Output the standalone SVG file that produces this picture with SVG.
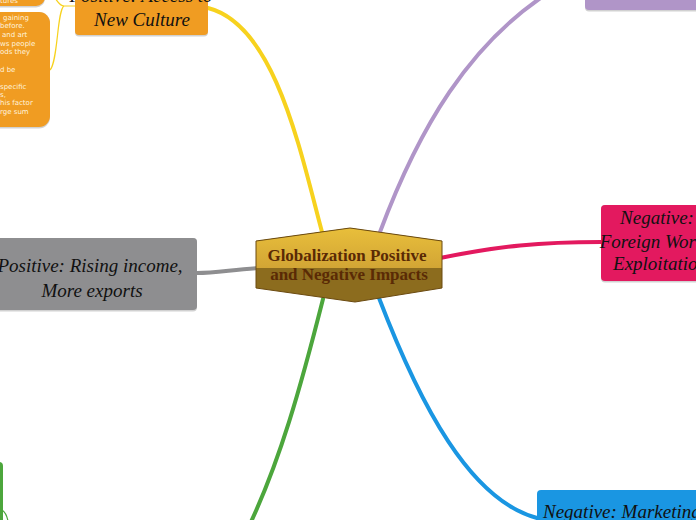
<svg xmlns="http://www.w3.org/2000/svg" width="696" height="520" viewBox="0 0 696 520">
<defs>
<linearGradient id="gTop" x1="0" y1="0" x2="0" y2="1">
<stop offset="0" stop-color="#EDC43C"/>
<stop offset="1" stop-color="#D2A535"/>
</linearGradient>
<clipPath id="hexClip"><polygon points="256,241 350,228 442,241 442,288 355,302 256,288"/></clipPath>
</defs>
<style>
.script{font-family:"Liberation Serif","DejaVu Serif",serif;font-style:italic;font-size:19px;fill:#111;text-anchor:middle}
.small{font-family:"DejaVu Sans","Liberation Sans",sans-serif;font-size:7px;fill:#fff3dd}
.conn{fill:none;stroke-width:4;stroke-linecap:round}
.thin{fill:none;stroke-width:1.2}
.shadow{fill:#000;opacity:0.18}
.center{font-family:"Liberation Serif","DejaVu Serif",serif;font-weight:bold;font-size:17px;fill:#5A2A05;text-anchor:middle}
</style>
<rect width="696" height="520" fill="#fff"/>
<g id="connectors">
<path class="conn" stroke="#F7D21E" d="M322 232 C300 150,275 25,208 8"/>
<path class="conn" stroke="#B095C8" d="M380 232 C420 125,470 45,545 -5"/>
<path class="conn" stroke="#E3195F" d="M440 258 C500 246,540 242,601 242"/>
<path class="conn" stroke="#1A96E2" d="M379 298 C420 405,470 500,537 518"/>
<path class="conn" stroke="#4CA63C" d="M323 299 C300 390,280 460,250 524"/>
<path class="conn" stroke="#8E8E90" d="M258 268 C230 270,215 273,197 273"/>
<path class="thin" stroke="#F7D21E" d="M75 6 L64 6 C60 6,58 2,55 -2"/>
<path class="thin" stroke="#F7D21E" d="M64 6 C57 10,58 62,50 70"/>
<path class="thin" stroke="#4CA63C" d="M2 510 C5 512,7 516,8 521"/>
</g>
<g id="central">
<polygon points="256,241 350,228 442,241 442,288 355,302 256,288" fill="#8C6C1E"/>
<rect x="250" y="220" width="200" height="48" fill="url(#gTop)" clip-path="url(#hexClip)"/>
<polygon points="256,241 350,228 442,241 442,288 355,302 256,288" fill="none" stroke="#6B4A10" stroke-width="1" stroke-linejoin="round"/>
<text class="center" x="347" y="261">Globalization Positive</text>
<text class="center" x="349" y="280">and Negative Impacts</text>
</g>
<g id="node-access">
<rect class="shadow" x="75" y="-20" width="133" height="56.5" rx="4"/>
<rect x="75" y="-20" width="133" height="55" rx="4" fill="#F09C22"/>
<text class="script" x="141" y="2">Positive: Access to</text>
<text class="script" x="142" y="26">New Culture</text>
</g>
<g id="node-culture-a">
<rect class="shadow" x="-20" y="-30" width="65" height="37.5" rx="9"/>
<rect x="-20" y="-30" width="65" height="36" rx="9" fill="#F09C22"/>
<text class="small" x="0" y="3">tures</text>
</g>
<g id="node-culture-b">
<rect class="shadow" x="-60" y="12" width="110" height="116.5" rx="11"/>
<rect x="-60" y="12" width="110" height="115" rx="11" fill="#F09C22"/>
<text class="small" x="3" y="20">gaining</text>
<text class="small" x="0" y="28">before.</text>
<text class="small" x="2" y="37">and art</text>
<text class="small" x="0" y="46">ws people</text>
<text class="small" x="0" y="54">ods they</text>
<text class="small" x="0" y="72">d be</text>
<text class="small" x="0" y="89">specific</text>
<text class="small" x="0" y="97">s,</text>
<text class="small" x="0" y="105">his factor</text>
<text class="small" x="0" y="114">rge sum</text>
</g>
<g id="node-income">
<rect class="shadow" x="-30" y="238" width="227" height="73.5" rx="4"/>
<rect x="-30" y="238" width="227" height="72" rx="4" fill="#8E8E90"/>
<text class="script" x="90" y="272">Positive: Rising income,</text>
<text class="script" x="92" y="297">More exports</text>
</g>
<g id="node-purple">
<rect class="shadow" x="585" y="-40" width="130" height="51.5" rx="4"/>
<rect x="585" y="-40" width="130" height="50" rx="4" fill="#B095C8"/>
</g>
<g id="node-foreign">
<rect class="shadow" x="601" y="205" width="120" height="77.5" rx="4"/>
<rect x="601" y="205" width="120" height="76" rx="4" fill="#E3195F"/>
<text class="script" x="657" y="224">Negative:</text>
<text class="script" x="660" y="248">Foreign Worker</text>
<text class="script" x="660" y="270">Exploitation</text>
</g>
<g id="node-marketing">
<rect x="537" y="490" width="200" height="50" rx="4" fill="#1A96E2"/>
<text class="script" x="543" y="518" style="text-anchor:start">Negative: Marketing and</text>
</g>
<g id="node-green">
<rect x="-60" y="462" width="63" height="70" rx="4" fill="#4CA63C"/>
</g>
</svg>
